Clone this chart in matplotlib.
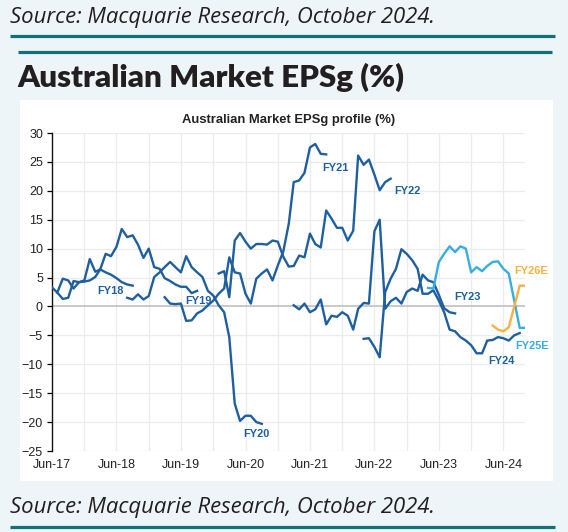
import matplotlib
matplotlib.use('Agg')
import matplotlib.pyplot as plt
import matplotlib.dates as mdates
from matplotlib.lines import Line2D
from matplotlib.patches import Rectangle
import pandas as pd

# ---------------- data ----------------
fy18_start = '2017-06'
fy18 = [3.3, 2.4, 1.3, 1.5, 4.4, 4.2, 4.5, 8.2, 6.0, 6.4, 5.9, 5.5, 4.9, 4.2, 3.8, 3.6]
fy19_start = '2017-07'
fy19 = [2.4, 4.8, 4.5, 3.1, 4.2, 4.3, 4.5, 5.1, 6.4, 9.1, 8.7, 10.3, 13.4, 12.0, 12.3, 10.7,
        8.4, 10.0, 6.8, 6.5, 4.9, 4.4, 3.8, 3.4, 3.4, 2.3, 2.7]
fy20_start = '2018-08'
fy20 = [1.5, 1.2, 2.1, 1.2, 1.8, 5.1, 5.9, 6.8, 7.7, 6.8, 5.9, 8.7, 6.8, 5.9, 5.1, 2.7, 1.9,
        0.2, -1.0, -5.3, -16.8, -19.8, -18.9, -18.9, -20.0, -20.3]
fy21_start = '2019-03'
fy21 = [1.6, 0.5, 0.4, 0.5, -2.5, -2.4, -1.2, -0.7, 0.2, 1.0, 2.2, 3.1, 8.5, 5.9, 5.7, 2.2,
        0.5, 4.8, 5.7, 6.4, 4.5, 7.1, 9.5, 14.3, 21.5, 21.8, 23.1, 27.5, 28.1, 26.4, 26.3]
fy22_start = '2020-01'
fy22 = [5.7, 6.1, 1.6, 11.4, 12.7, 11.2, 10.0, 10.8, 10.8, 10.7, 11.4, 11.2, 8.6, 6.9, 7.0,
        8.8, 8.5, 12.6, 10.8, 10.2, 16.6, 15.2, 13.6, 13.6, 11.4, 13.1, 26.1, 24.5, 25.4, 22.8,
        20.1, 21.5, 22.1]
fy23_start = '2021-03'
fy23 = [0.2, -0.5, 0.5, -1.0, -0.5, 1.2, -3.1, -1.6, -1.8, -1.0, -1.6, -4.0, -0.4, 0.6, 0.5,
        13.0, 15.0, -0.4, 0.9, 1.5, 0.5, 2.5, 3.1, 2.7, 5.5, 4.5, 4.2, 2.0, -0.3, -1.0, -1.2]
fy24_start = '2022-04'
fy24 = [-5.6, -5.5, -7.0, -8.8, 2.5, 4.8, 6.5, 9.9, 9.1, 8.0, 6.5, 2.2, 2.2, 2.8, 1.0, -1.0,
        -4.0, -4.3, -5.3, -5.9, -6.7, -8.1, -8.1, -5.9, -5.8, -5.3, -5.5, -5.9, -5.0, -4.6]
fy25e_start = '2023-04'
fy25e = [3.2, 3.1, 7.7, 9.1, 10.4, 9.4, 10.4, 10.0, 5.9, 6.8, 6.1, 7.0, 7.7, 7.8, 6.5, 5.7,
         1.0, -3.7, -3.7]
fy26e_start = '2024-04'
fy26e = [-3.3, -4.0, -4.3, -3.6, 0.0, 3.6, 3.6]

series_names = ['FY18', 'FY19', 'FY20', 'FY21', 'FY22', 'FY23', 'FY24', 'FY25E', 'FY26E']
tick_years = ['Jun-17', 'Jun-18', 'Jun-19', 'Jun-20', 'Jun-21', 'Jun-22', 'Jun-23', 'Jun-24']
y_ticks = [-25, -20, -15, -10, -5, 0, 5, 10, 15, 20, 25, 30]

# ---------------- style ----------------
BG = '#eef5f8'
TEAL = '#0f7179'
DARK = '#1f5f9f'
LIGHT = '#36ade3'
ORANGE = '#fbb040'
W, H = 568, 532

def fx(px):
    return px / W

def fy(py):
    return 1 - py / H

fig = plt.figure(figsize=(W / 100, H / 100), dpi=100, facecolor=BG)

fig.add_artist(Rectangle((fx(20), fy(481)), fx(553) - fx(20), fy(100) - fy(481),
                         transform=fig.transFigure, facecolor='white', edgecolor='none', zorder=0))
for (x0, x1, yy) in [(10, 555, 36), (18, 552, 52), (10, 555, 527)]:
    fig.add_artist(Line2D([fx(x0), fx(x1)], [fy(yy), fy(yy)], transform=fig.transFigure,
                          color=TEAL, lw=2.3, solid_capstyle='butt'))

src = 'Source: Macquarie Research, October 2024.'
fig.text(fx(10), fy(17), src, fontfamily='Open Sans', fontstyle='italic', fontsize=15.9,
         color='#231f20', va='center', ha='left')
fig.text(fx(10), fy(508), src, fontfamily='Open Sans', fontstyle='italic', fontsize=15.9,
         color='#231f20', va='center', ha='left')
fig.text(fx(17), fy(77), 'Australian Market EPSg (%)', fontfamily='Lato', fontweight='heavy',
         fontsize=22.5, color='#231f20', va='center', ha='left')

ax = fig.add_axes([fx(52), fy(451), fx(525) - fx(52), fy(133) - fy(451)])
ax.set_facecolor('white')

def dates(start, n):
    return pd.date_range(start=start, periods=n, freq='MS')

data = [(fy18_start, fy18, DARK), (fy19_start, fy19, DARK), (fy20_start, fy20, DARK),
        (fy21_start, fy21, DARK), (fy22_start, fy22, DARK), (fy23_start, fy23, DARK),
        (fy24_start, fy24, DARK), (fy25e_start, fy25e, LIGHT), (fy26e_start, fy26e, ORANGE)]
for start, vals, col in data:
    ax.plot(dates(start, len(vals)), vals, color=col, lw=1.7, zorder=3, solid_joinstyle='round')

x0 = pd.Timestamp('2017-06-01')
x1 = pd.Timestamp('2024-10-01')
ax.set_xlim(x0, x1)
ax.set_ylim(-25, 30)

major = pd.date_range('2017-06-01', '2024-06-01', freq='12MS')
grid_dates = pd.date_range('2017-12-01', '2024-06-01', freq='6MS')
ax.set_xticks(major)
ax.set_xticklabels(tick_years)
for d in grid_dates:
    ax.axvline(d, color='#ececec', lw=0.9, zorder=1)
for v in y_ticks:
    if v != 0:
        ax.axhline(v, color='#ececec', lw=0.9, zorder=1)
ax.axhline(0, color='#c0c0c0', lw=1.2, zorder=2)

ax.set_yticks(y_ticks)
ax.tick_params(axis='x', length=0, pad=6, labelsize=9, labelcolor='#222222')
ax.tick_params(axis='y', length=3.5, width=0.9, pad=3, labelsize=9, labelcolor='#222222',
               direction='out')
for lab in ax.get_xticklabels() + ax.get_yticklabels():
    lab.set_fontfamily('Liberation Sans')
for s in ['top', 'right', 'bottom']:
    ax.spines[s].set_visible(False)
ax.spines['left'].set_linewidth(1.0)
ax.spines['left'].set_color('#111111')

ax.set_title('Australian Market EPSg profile (%)', fontfamily='Liberation Sans',
             fontweight='bold', fontsize=9.4, color='#222222', pad=7)

# series labels (months after Jun-17, value)
label_pos = [(10.9, 2.6), (27.2, 0.9), (38.0, -22.1), (52.7, 23.9), (66.1, 19.9),
             (77.3, 1.7), (83.7, -9.5), (89.3, -6.9), (89.2, 6.2)]
label_cols = [DARK] * 7 + [LIGHT, ORANGE]
base = mdates.date2num(x0)
for name, (m, v), col in zip(series_names, label_pos, label_cols):
    ax.text(base + m * 30.44, v, name, color=col, fontfamily='Liberation Sans',
            fontweight='bold', fontsize=7.9, ha='center', va='center', zorder=4, clip_on=False)

fig.savefig('out.png', dpi=100, facecolor=BG)
